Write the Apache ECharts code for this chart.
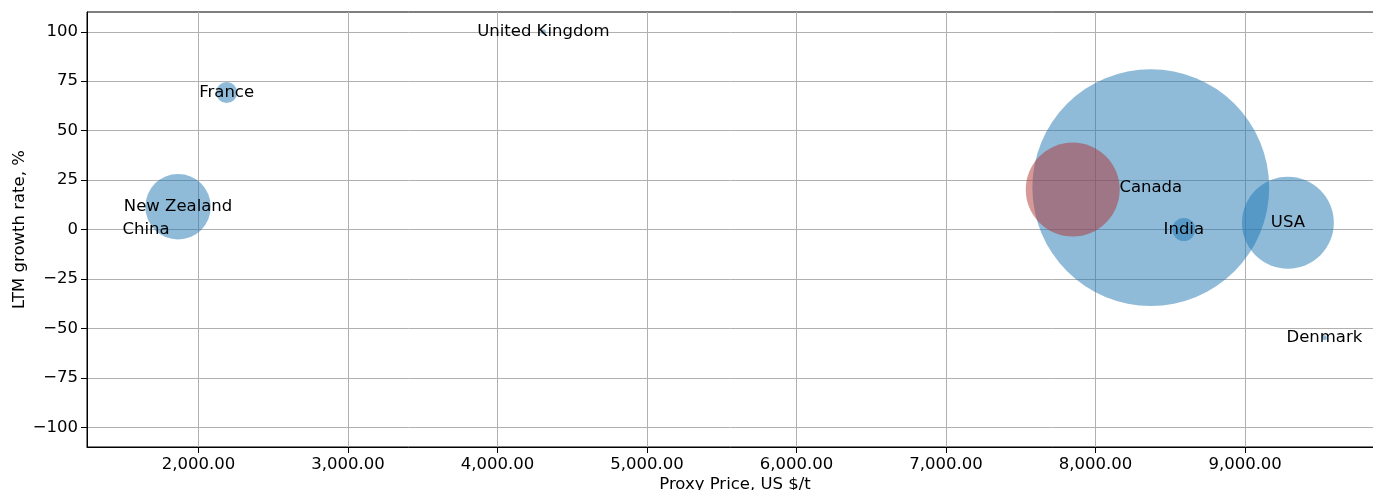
<!DOCTYPE html>
<html>
<head>
<meta charset="utf-8">
<script src="https://cdn.jsdelivr.net/npm/echarts@6/dist/echarts.min.js"></script>
<style>
  html, body { margin: 0; padding: 0; background: #fff; }
  #main { width: 1373px; height: 490px; }
</style>
</head>
<body>
<div id="main"></div>
<script>
// countries (blue bubbles)
var countries = ['United Kingdom', 'France', 'New Zealand', 'China', 'Canada', 'India', 'USA', 'Denmark'];
var prices = [4307, 2189, 1864, 1650, 8369, 8590, 9286, 9530];
var growth = [100, 69.3, 11.5, 0, 21.2, 0, 3.4, -54.8];
var volumes = [2.5, 44, 429, 0, 5617, 53, 846, 2.5];

// highlighted bubble (red, unlabeled)
var hiPrices = [7847];
var hiGrowth = [20.2];
var hiVolumes = [884];

var xTicks = [2000, 3000, 4000, 5000, 6000, 7000, 8000, 9000];
var yTicks = [-100, -75, -50, -25, 0, 25, 50, 75, 100];

var font = 'DejaVu Sans';

function fmtPrice(v) {
    var s = Math.round(v).toString();
    s = s.replace(/\B(?=(\d{3})+(?!\d))/g, ',');
    return s + '.00';
}

function bubbleSize(v) {
    return Math.max(Math.sqrt(v) * 3.16, 0.5);
}

var mainData = [];
for (var i = 0; i < countries.length; i++) {
    mainData.push({ name: countries[i], value: [prices[i], growth[i], volumes[i]] });
}
var hiData = [];
for (var j = 0; j < hiPrices.length; j++) {
    hiData.push({ name: '', value: [hiPrices[j], hiGrowth[j], hiVolumes[j]] });
}

var chart = echarts.init(document.getElementById('main'));
chart.setOption({
    backgroundColor: '#fff',
    animation: false,
    grid: {
        left: 87, top: 12, right: -10, bottom: 43,
        outerBoundsMode: 'none',
        containLabel: false,
        show: true, borderColor: '#000', borderWidth: 1, backgroundColor: 'transparent'
    },
    xAxis: {
        type: 'value',
        min: 1255,
        max: 9922,
        name: 'Proxy Price, US $/t',
        nameLocation: 'middle',
        nameMoveOverlap: false,
        nameGap: 29,
        nameTextStyle: { fontFamily: font, fontSize: 16.5, color: '#000' },
        axisLine: { show: true, onZero: false, lineStyle: { color: '#000', width: 1 } },
        axisTick: { show: true, length: 6, lineStyle: { color: '#000' }, customValues: xTicks },
        axisLabel: {
            customValues: xTicks, margin: 9,
            fontFamily: font, fontSize: 16.5, color: '#000',
            formatter: fmtPrice
        },
        splitLine: { show: true, lineStyle: { color: '#b0b0b0', width: 1 } }
    },
    yAxis: {
        type: 'value',
        min: -110,
        max: 110,
        name: 'LTM growth rate, %',
        nameLocation: 'middle',
        nameMoveOverlap: false,
        nameGap: 59,
        nameTextStyle: { fontFamily: font, fontSize: 16.5, color: '#000' },
        axisLine: { show: true, onZero: false, lineStyle: { color: '#000', width: 1 } },
        axisTick: { show: true, length: 6, lineStyle: { color: '#000' }, customValues: yTicks },
        axisLabel: {
            customValues: yTicks, margin: 9,
            fontFamily: font, fontSize: 16.5, color: '#000',
            formatter: function (v) { return String(v).replace('-', '\u2212'); }
        },
        splitLine: { show: true, lineStyle: { color: '#b0b0b0', width: 1 } }
    },
    series: [
        {
            type: 'scatter',
            data: mainData,
            symbolSize: function (val) { return bubbleSize(val[2]); },
            itemStyle: { color: 'rgba(31,119,180,0.5)', opacity: 1 },
            label: {
                show: true, position: 'inside',
                formatter: '{b}',
                fontFamily: font, fontSize: 16.5, color: '#000'
            },
            labelLayout: { hideOverlap: false },
            z: 3
        },
        {
            type: 'scatter',
            data: hiData,
            symbolSize: function (val) { return bubbleSize(val[2]); },
            itemStyle: { color: 'rgba(175,50,50,0.5)', opacity: 1 },
            z: 4
        }
    ]
});
</script>
</body>
</html>
